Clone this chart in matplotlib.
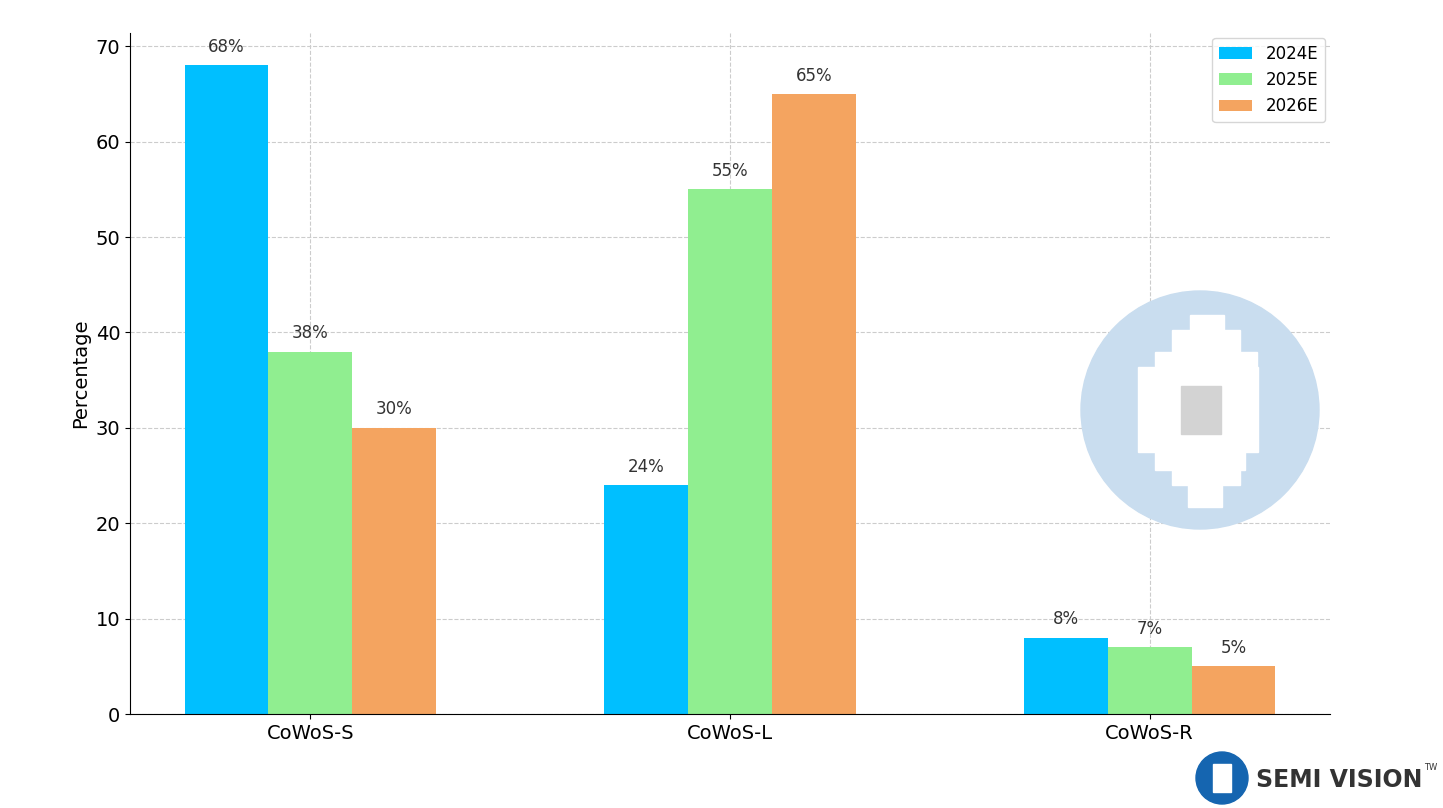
import matplotlib
matplotlib.use("Agg")
import matplotlib.pyplot as plt
import numpy as np
from matplotlib.patches import Circle, Rectangle

categories = ["CoWoS-S", "CoWoS-L", "CoWoS-R"]
series_names = ["2024E", "2025E", "2026E"]
v2024 = [68, 24, 8]
v2025 = [38, 55, 7]
v2026 = [30, 65, 5]
colors = ["#00BFFF", "#90EE90", "#F4A460"]

fig = plt.figure(figsize=(14.43, 8.08), dpi=100)
ax = fig.add_axes([130/1443, 1-714/808, 1200/1443, (714-33)/808])
x = np.arange(len(categories))
w = 0.2
for i, (vals, name, c) in enumerate(zip([v2024, v2025, v2026], series_names, colors)):
    bars = ax.bar(x + (i-1)*w, vals, w, color=c, label=name, zorder=2)
    for b, v in zip(bars, vals):
        ax.text(b.get_x()+b.get_width()/2, v+1, f"{v}%", ha="center", va="bottom",
                fontsize=12, color="#333333")
ax.set_xticks(x)
ax.set_xticklabels(categories, fontsize=14)
ax.set_xlim(-0.43, 2.43)
ax.set_ylim(0, 71.4)
ax.tick_params(axis="y", labelsize=14)
ax.set_ylabel("Percentage", fontsize=14)
ax.grid(True, linestyle="--", color="#cccccc", linewidth=0.8, zorder=0)
ax.set_axisbelow(True)
for s in ["top", "right"]:
    ax.spines[s].set_visible(False)
ax.legend(loc="upper right", fontsize=12, frameon=True, borderaxespad=0.3)

# watermark
fa = fig.add_axes([0, 0, 1, 1], facecolor="none")
fa.set_xlim(0, 1443); fa.set_ylim(808, 0); fa.axis("off")
fa.add_patch(Circle((1200, 410), 119, color="#c9ddef", zorder=1))
for (x0, y0, ww, hh) in [(1190, 315, 34, 20), (1172, 330, 68, 25), (1155, 352, 102, 20),
                         (1138, 367, 120, 85), (1155, 450, 90, 20), (1172, 465, 68, 20),
                         (1188, 482, 34, 25)]:
    fa.add_patch(Rectangle((x0, y0), ww, hh, color="white", zorder=2))
fa.add_patch(Rectangle((1181, 386), 40, 48, color="#d3d3d3", zorder=3))
fa.add_patch(Circle((1222, 778), 26, color="#1565b0", zorder=3))
fa.add_patch(Rectangle((1213, 764), 18, 28, color="white", zorder=4))
fa.text(1256, 780, "SEMI VISION", fontsize=17, fontweight="bold", color="#333333", va="center")
fa.text(1424, 767, "TW", fontsize=6, color="#333333", va="center")

fig.savefig("out.png", dpi=100)
